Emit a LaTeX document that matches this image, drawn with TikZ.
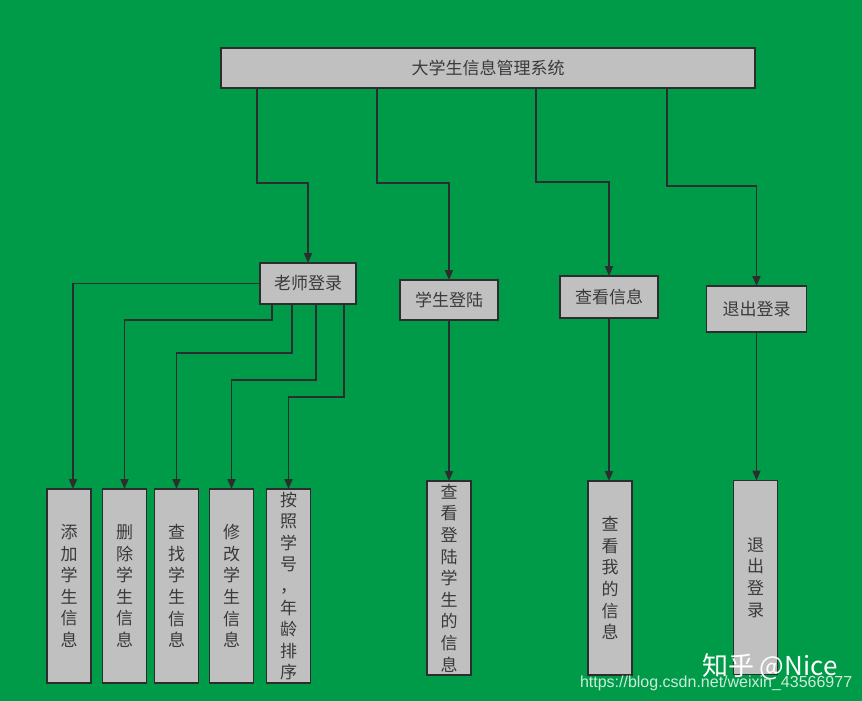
\documentclass[tikz,border=0pt]{standalone}
\usepackage{fontspec}
\newfontfamily\cjk{Noto Sans CJK SC}
\newfontfamily\urlfont{Liberation Sans}
\usetikzlibrary{arrows.meta}
\definecolor{bggreen}{RGB}{0,155,72}
\definecolor{boxgray}{RGB}{192,192,192}
\definecolor{linegray}{RGB}{45,45,45}
\definecolor{textgray}{RGB}{58,58,58}

\begin{document}
\begin{tikzpicture}[x=1pt,y=-1pt,
   every node/.style={outer sep=0,inner sep=0,text=textgray,
      font=\cjk\fontsize{17}{21.6}\selectfont},
   box/.style={draw=linegray,fill=boxgray,line width=1.8pt},
   vbox/.style={box,minimum width=44pt,minimum height=194pt,align=center},
   link/.style={draw=linegray,line width=1.8pt,
      -{Triangle[length=10pt,width=8pt]}}]
   \fill[bggreen] (0,0) rectangle (862,701);
   \useasboundingbox (0,0) rectangle (862,701);

   % top level
   \node[box,minimum width=534pt,minimum height=40pt] (sys) at (488,68)
   {大学生信息管理系统};

   % second level
   \node[box,minimum width=96pt,minimum height=41pt] (tch) at (308,283.5) {老师登录};
   \node[box,minimum width=98pt,minimum height=40pt] (stu) at (449,300) {学生登陆};
   \node[box,minimum width=98pt,minimum height=42pt] (chk) at (609,297) {查看信息};
   \node[box,minimum width=100pt,minimum height=46pt] (quit) at (756.5,309) {退出登录};

   \draw[link] ([xshift=-231pt]sys.south) -- ++(0,95) -| (tch.north);
   \draw[link] ([xshift=-111pt]sys.south) -- ++(0,95) -| (stu.north);
   \draw[link] ([xshift=48pt]sys.south) -- ++(0,94) -| (chk.north);
   \draw[link] ([xshift=179pt]sys.south) -- ++(0,98) -| (quit.north);

   % teacher functions
   \node[vbox] (add) at (69,586) {添\\加\\学\\生\\信\\息};
   \node[vbox] (del) at (124.5,586) {删\\除\\学\\生\\信\\息};
   \node[vbox] (find) at (176.5,586) {查\\找\\学\\生\\信\\息};
   \node[vbox] (edit) at (231.5,586) {修\\改\\学\\生\\信\\息};
   \node[vbox] (sort) at (288.5,586) {按\\照\\学\\号\\，\\年\\龄\\排\\序};

   \draw[link] (tch.west) -| ([xshift=4pt]add.north);
   \draw[link] ([xshift=-36pt]tch.south) -- ++(0,16) -| (del.north);
   \draw[link] ([xshift=-16pt]tch.south) -- ++(0,49) -| (find.north);
   \draw[link] ([xshift=8pt]tch.south) -- ++(0,76) -| (edit.north);
   \draw[link] ([xshift=36pt]tch.south) -- ++(0,93) -| (sort.north);

   % other functions
   \node[vbox] (look) at (449,578) {查\\看\\登\\陆\\学\\生\\的\\信\\息};
   \node[vbox] (mine) at (610,578) {查\\看\\我\\的\\信\\息};
   \node[vbox] (out) at (755.5,577.5) {退\\出\\登\\录};

   \draw[link] (stu.south) -- (stu.south |- look.north);
   \draw[link] (chk.south) -- (chk.south |- mine.north);
   \draw[link] (quit.south) -- (quit.south |- out.north);

   % watermark
   \node[anchor=base west,text=white,font=\cjk\fontsize{26}{26}\selectfont]
   (zhihu) at (702,675) {知乎 @Nice};
   \node[anchor=base west,text=white!80!bggreen,
      font=\urlfont\fontsize{16}{16}\selectfont]
   (url) at (580,687) {https://blog.csdn.net/weixin\_43566977};
\end{tikzpicture}
\end{document}
